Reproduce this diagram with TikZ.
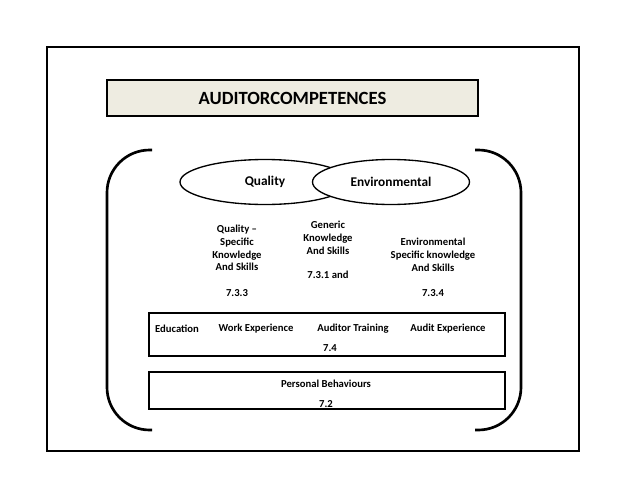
\documentclass[tikz,border=0pt]{standalone}
\usepackage{fontspec}
\setmainfont{Carlito}
\usetikzlibrary{shapes.geometric}
\definecolor{beige}{HTML}{EEECE1}
\tikzset{lbl/.style={font=\bfseries\fontsize{8}{9.6}\selectfont,align=center},
 bx/.style={draw,line width=1.2pt}}
\begin{document}
\begin{tikzpicture}[x=0.75pt,y=-0.75pt]
\useasboundingbox (0,0) rectangle (638,478);
\node[bx,minimum width=532*0.75pt,minimum height=404*0.75pt,line width=1.3pt] (outer) at (313,249) {};
\node[draw,fill=beige,line width=1pt,minimum width=371*0.75pt,minimum height=36*0.75pt,font=\bfseries\fontsize{14}{16}\selectfont] (title) at (292.5,98) {\hspace*{0pt}AUDITORCOMPETENCES};
\node[draw,ellipse,line width=1pt,minimum width=170*0.75pt,minimum height=45*0.75pt] (q) at (265,182) {};
\node[font=\bfseries\fontsize{10}{12}\selectfont] (qt) at (265,182) {Quality};
\node[draw,ellipse,line width=1pt,fill=white,minimum width=157*0.75pt,minimum height=45*0.75pt,font=\bfseries\fontsize{10}{12}\selectfont] (e) at (391,182) {Environmental};
\draw[line width=2pt,rounded corners=32pt] (152,150) -- (107,150) -- (107,430) -- (152,430);
\draw[line width=2pt,rounded corners=32pt] (475,150) -- (521,150) -- (521,430) -- (475,430);
\node[lbl] (qs) at (237,248) {Quality –\\Specific\\Knowledge\\And Skills};
\node[lbl] (qn) at (237,293) {7.3.3};
\node[lbl] (g) at (328,238) {Generic\\Knowledge\\And Skills};
\node[lbl] (gn) at (328,275) {7.3.1 and};
\node[lbl] (es) at (433,255) {Environmental\\Specific knowledge\\And Skills};
\node[lbl] (en) at (433,293) {7.3.4};
\node[bx,minimum width=356*0.75pt,minimum height=43*0.75pt] (b1) at (327,334.5) {};
\node[lbl] (ed) at (177,329) {Education};
\node[lbl] (we) at (256,329) {Work Experience};
\node[lbl] (at) at (353,329) {Auditor Training};
\node[lbl] (ae) at (448,329) {Audit Experience};
\node[lbl] (n74) at (330,348) {7.4};
\node[bx,minimum width=356*0.75pt,minimum height=37*0.75pt] (b2) at (327,390.5) {};
\node[lbl] (pb) at (326,384) {Personal Behaviours};
\node[lbl] (n72) at (326,404) {7.2};
\end{tikzpicture}
\end{document}
